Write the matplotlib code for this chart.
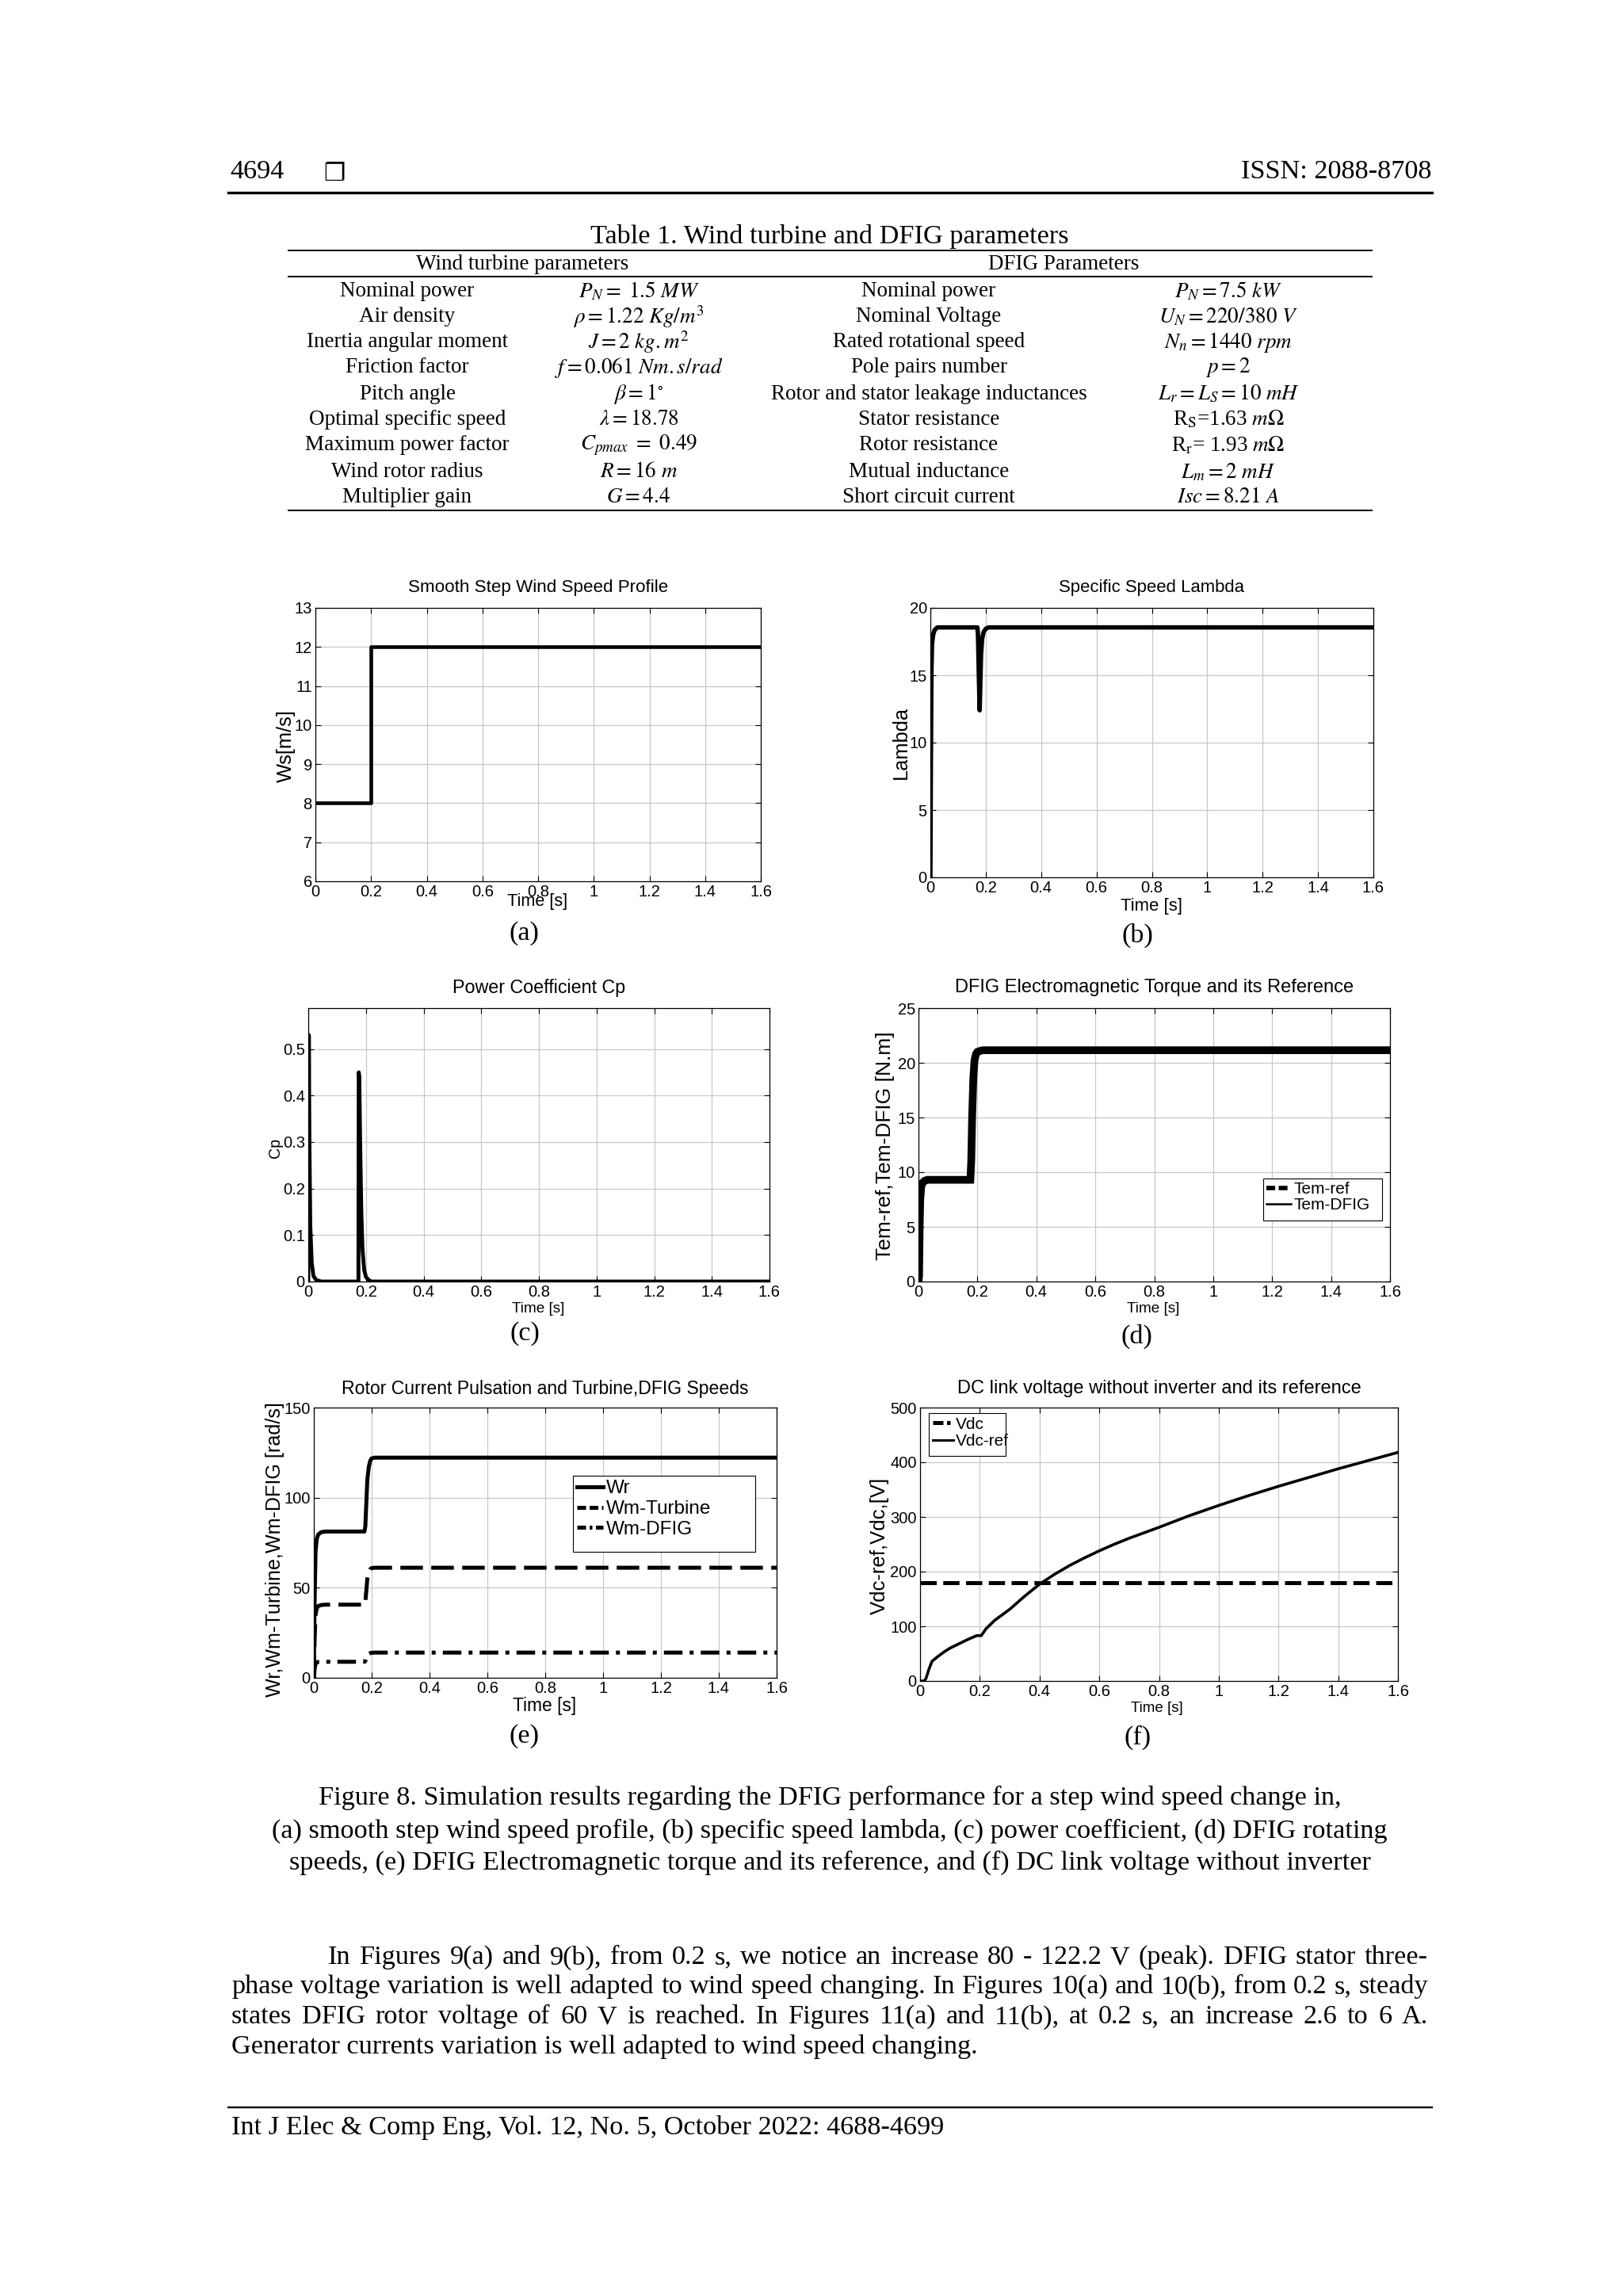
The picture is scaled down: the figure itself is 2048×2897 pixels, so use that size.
import numpy as np
import matplotlib.pyplot as plt
from matplotlib.lines import Line2D
from matplotlib.patches import Rectangle
from matplotlib.ticker import FuncFormatter

plt.rcParams['font.family'] = ['Liberation Sans', 'DejaVu Sans']
plt.rcParams['mathtext.fontset'] = 'stix'

W, H = 2048, 2897
SERIF = 'Liberation Serif'

# ---- Table 1 ----
wt_params = ['Nominal power', 'Air density', 'Inertia angular moment', 'Friction factor',
             'Pitch angle', 'Optimal specific speed', 'Maximum power factor',
             'Wind rotor radius', 'Multiplier gain']
wt_values = [r'$P_N =\ 1.5\ MW$', r'$\rho = 1.22\ Kg/m^3$', r'$J = 2\ kg.m^2$',
             r'$f = 0.061\ Nm.s/rad$', r'$\beta = 1^{\circ}$', r'$\lambda = 18.78$',
             r'$C_{pmax}\ =\ 0.49$', r'$R = 16\ m$', r'$G = 4.4$']
dfig_params = ['Nominal power', 'Nominal Voltage', 'Rated rotational speed', 'Pole pairs number',
               'Rotor and stator leakage inductances', 'Stator resistance', 'Rotor resistance',
               'Mutual inductance', 'Short circuit current']
dfig_values = [r'$P_N = 7.5\ kW$', r'$U_N = 220/380\ V$', r'$N_n = 1440\ rpm$', r'$p = 2$',
               r'$L_r = L_S = 10\ mH$', r'R$_\mathrm{S}$=1.63 $m\Omega$',
               r'R$_\mathrm{r}$= 1.93 $m\Omega$', r'$L_m = 2\ mH$', r'$Isc = 8.21\ A$']

# ---- (a) wind speed ----
t_ws = [0, 0.2, 0.2, 1.6]
ws = [8, 8, 12, 12]

# ---- (b) lambda ----
t_lam = [0, 0.002, 0.004, 0.006, 0.01, 0.015, 0.025, 0.17, 0.172, 0.175, 0.178, 0.18,
         0.183, 0.187, 0.192, 0.2, 0.21, 1.6]
lam = [0, 9, 15.5, 17.3, 18.0, 18.35, 18.55, 18.55, 18.0, 15.0, 12.4, 14.0,
       16.5, 17.7, 18.2, 18.45, 18.55, 18.55]

# ---- (c) Cp ----
t_cp = [0, 0.002, 0.004, 0.007, 0.012, 0.018, 0.028, 0.045, 0.174, 0.175, 0.177, 0.18,
        0.184, 0.188, 0.194, 0.2, 0.21, 0.22, 1.6]
cp = [0, 0.53, 0.3, 0.12, 0.04, 0.012, 0.003, 0, 0, 0.45, 0.44, 0.3,
      0.15, 0.07, 0.025, 0.01, 0.003, 0, 0]

# ---- (d) torque ----
t_tem = [0, 0.002, 0.004, 0.006, 0.009, 0.013, 0.02, 0.03, 0.176, 0.179, 0.182, 0.186,
         0.19, 0.195, 0.2, 0.21, 0.22, 1.6]
tem_ref = [0, 0.5, 5, 7.5, 8.6, 9.0, 9.2, 9.3, 9.3, 11, 15, 18.5,
           20.2, 20.8, 21.0, 21.1, 21.15, 21.15]
tem_dfig = [0, 0.5, 5, 7.5, 8.6, 9.0, 9.2, 9.3, 9.3, 11, 15, 18.5,
            20.2, 20.8, 21.0, 21.1, 21.15, 21.15]

# ---- (e) speeds ----
t_w = [0, 0.003, 0.006, 0.01, 0.015, 0.025, 0.04, 0.175, 0.178, 0.181, 0.185, 0.19,
       0.195, 0.2, 0.21, 1.6]
wr = [0, 45, 70, 77, 79.5, 80.8, 81.2, 81.2, 84, 95, 110, 117, 120.5, 121.8, 122.2, 122.2]
wm_turbine = [0, 22.5, 35, 38.5, 39.8, 40.4, 40.6, 40.6, 42, 47.5, 55, 58.5, 60.3, 60.9,
              61.1, 61.1]
wm_dfig = [0, 5.1, 8.0, 8.6, 8.8, 8.9, 8.9, 8.9, 9.3, 10.8, 12.5, 13.3, 13.7, 13.9, 14.0, 14.0]

# ---- (f) DC link ----
t_vdc = [0, 1.6]
vdc = [180, 180]
t_vref = [0, 0.015, 0.02, 0.03, 0.04, 0.06, 0.08, 0.1, 0.13, 0.16, 0.19, 0.205, 0.22, 0.25,
          0.3, 0.35, 0.4, 0.45, 0.5, 0.55, 0.6, 0.65, 0.7, 0.75, 0.8, 0.9, 1.0, 1.1, 1.2,
          1.3, 1.4, 1.5, 1.6]
vdc_ref = [0, 0, 5, 22, 36, 45, 53, 60, 68, 76, 83, 83, 95, 111,
           131, 155, 177, 195, 211, 225, 238, 250, 261, 271, 281, 302, 321, 339, 356,
           372, 388, 403, 418]

fig = plt.figure(figsize=(W / 100, H / 100), dpi=100)
renderer = fig.canvas.get_renderer()


def fx(x):
    return x / W


def fy(y):
    return 1 - y / H


def page_text(x, y, s, size=24.7, **kw):
    return fig.text(fx(x), fy(y), s, fontsize=size, family=SERIF, va='center', **kw)


def hline(x0, x1, y, lw):
    fig.add_artist(Line2D([fx(x0), fx(x1)], [fy(y), fy(y)], color='black', lw=lw))


def fit(t, size_px, vertical=False):
    bb = t.get_window_extent(renderer)
    cur = bb.height if vertical else bb.width
    t.set_fontsize(t.get_fontsize() * size_px / cur)


def justify(s, x0, x1, y):
    words = s.split()
    texts = [page_text(0, y, w) for w in words]
    widths = [t.get_window_extent(renderer).width for t in texts]
    gap = (x1 - x0 - sum(widths)) / (len(words) - 1)
    x = x0
    for t, w in zip(texts, widths):
        t.set_x(fx(x))
        x += w + gap


fmt = FuncFormatter(lambda v, p: '%g' % round(v, 3))


def panel(box, title, xlab, ylab, tpos, xpos, ypos):
    l, r, t, b = box
    ax = fig.add_axes([l / W, 1 - b / H, (r - l) / W, (b - t) / H])
    ax.grid(True, color='#c8c8c8', lw=0.9)
    ax.set_axisbelow(True)
    ax.tick_params(direction='in', length=5, width=0.8, top=True, right=True,
                   labelsize=14.5, pad=3)
    for sp in ax.spines.values():
        sp.set_linewidth(0.9)
    ax.set_xlim(0, 1.6)
    ax.set_xticks(np.arange(0, 1.61, 0.2))
    ax.xaxis.set_major_formatter(fmt)
    ax.yaxis.set_major_formatter(fmt)
    ttl = ax.set_title(title, y=(b - tpos[0]) / (b - t), va='center', pad=0, fontsize=16)
    fit(ttl, tpos[1])
    ax.set_xlabel(xlab, fontsize=15)
    ax.xaxis.label.set_va('center')
    ax.xaxis.set_label_coords((xpos[0] - l) / (r - l), (b - xpos[1]) / (b - t))
    fit(ax.xaxis.label, xpos[2])
    ax.set_ylabel(ylab, fontsize=17)
    ax.yaxis.label.set_va('center')
    ax.yaxis.set_label_coords((ypos[0] - l) / (r - l), (b - ypos[1]) / (b - t))
    fit(ax.yaxis.label, ypos[2], vertical=True)
    return ax


def legend_box(ax, axbox, box, handles, labels, size, hl, pad, sp):
    al, ar, at, ab = axbox
    l, r, t, b = box
    x0 = (l - al) / (ar - al)
    y0 = (ab - b) / (ab - at)
    w = (r - l) / (ar - al)
    h = (b - t) / (ab - at)
    ax.add_patch(Rectangle((x0, y0), w, h, transform=ax.transAxes, facecolor='white',
                           edgecolor='black', lw=0.8, zorder=4, clip_on=False))
    ax.legend(handles, labels, loc='upper left', bbox_to_anchor=(x0, y0 + h), frameon=False,
              fontsize=size, handlelength=hl, handletextpad=0.15, labelspacing=sp,
              borderaxespad=0, borderpad=pad)


# ---- page header ----
page_text(290, 217, '4694', ha='left')
fig.text(fx(422), fy(219), '\u2752', fontsize=22, family='DejaVu Sans', ha='center', va='center')
page_text(1807, 217, 'ISSN: 2088-8708', ha='right')
hline(288, 1807, 243, 2.4)

# ---- table ----
page_text(1047, 298, 'Table 1. Wind turbine and DFIG parameters', ha='center')
hline(364, 1731, 316, 1.4)
hline(364, 1731, 349, 1.4)
hline(364, 1731, 644, 1.4)
page_text(659, 334, 'Wind turbine parameters', size=19.5, ha='center')
page_text(1342, 334, 'DFIG Parameters', size=19.5, ha='center')
row_y = [368, 400, 432, 464, 497, 529, 562, 596, 628]
for i, y in enumerate(row_y):
    page_text(514, y, wt_params[i], size=19.5, ha='center')
    page_text(806, y, wt_values[i], size=19.5, ha='center')
    page_text(1172, y, dfig_params[i], size=19.5, ha='center')
    page_text(1550, y, dfig_values[i], size=19.5, ha='center')

# ---- (a) ----
box_a = (398, 960, 767, 1112)
ax = panel(box_a, 'Smooth Step Wind Speed Profile', 'Time [s]', 'Ws[m/s]',
           (742, 327), (678, 1138, 76), (361, 941, 92))
ax.plot(t_ws, ws, color='black', lw=3.3)
ax.set_ylim(6, 13)
ax.set_yticks(range(6, 14))

# ---- (b) ----
box_b = (1174, 1733, 767, 1107)
ax = panel(box_b, 'Specific Speed Lambda', 'Time [s]', 'Lambda',
           (742, 235), (1453, 1143, 78), (1137, 937, 92))
ax.plot(t_lam, lam, color='black', lw=4)
ax.set_ylim(0, 20)
ax.set_yticks(range(0, 21, 5))

# ---- (c) ----
box_c = (389, 971, 1272, 1617)
ax = panel(box_c, 'Power Coefficient Cp', 'Time [s]', 'Cp',
           (1246, 218), (679, 1651, 67), (347, 1448, 25))
ax.plot(t_cp, cp, color='black', lw=3.5)
ax.set_ylim(0, 0.588)
ax.set_yticks(np.arange(0, 0.51, 0.1))

# ---- (d) ----
box_d = (1159, 1754, 1272, 1617)
ax = panel(box_d, 'DFIG Electromagnetic Torque and its Reference', 'Time [s]',
           'Tem-ref,Tem-DFIG [N.m]', (1246, 504), (1455, 1652, 67), (1117, 1446, 288))
ax.plot(t_tem, tem_dfig, color='black', lw=7, solid_joinstyle='miter')
ax.plot(t_tem, tem_ref, color='black', lw=4, linestyle=(0, (2, 1)))
ax.set_ylim(0, 25)
ax.set_yticks(range(0, 26, 5))
legend_box(ax, box_d, (1594, 1744, 1487, 1540),
           [Line2D([], [], color='black', lw=4, linestyle=(0, (2, 0.8))),
            Line2D([], [], color='black', lw=1.8)],
           ['Tem-ref', 'Tem-DFIG'], 15, 1.5, 0.2, 0.05)

# ---- (e) ----
box_e = (396, 980, 1776, 2117)
ax = panel(box_e, 'Rotor Current Pulsation and Turbine,DFIG Speeds', 'Time [s]',
           'Wr,Wm-Turbine,Wm-DFIG [rad/s]', (1752, 514), (687, 2153, 80), (347, 1955, 370))
ax.plot(t_w, wr, color='black', lw=3.6)
ax.plot(t_w, wm_turbine, color='black', lw=3.6, linestyle=(0, (5.7, 2.1)))
ax.plot(t_w, wm_dfig, color='black', lw=3.6, linestyle=(0, (4.7, 1.8, 1, 1.8)))
ax.set_ylim(0, 150)
ax.set_yticks([0, 50, 100, 150])
legend_box(ax, box_e, (723, 953, 1862, 1958),
           [Line2D([], [], color='black', lw=3.6),
            Line2D([], [], color='black', lw=3.6, linestyle=(0, (2.2, 0.9))),
            Line2D([], [], color='black', lw=3.6, linestyle=(0, (2.2, 0.9, 0.7, 0.9)))],
           ['Wr', 'Wm-Turbine', 'Wm-DFIG'], 17.5, 1.35, 0.22, 0.15)

# ---- (f) ----
box_f = (1161, 1764, 1776, 2121)
ax = panel(box_f, 'DC link voltage without inverter and its reference', 'Time [s]',
           'Vdc-ref,Vdc,[V]', (1752, 510), (1460, 2155, 66), (1110, 1950, 173))
ax.plot(t_vdc, vdc, color='black', lw=3.6, linestyle=(0, (4.1, 1.65)))
ax.plot(t_vref, vdc_ref, color='black', lw=2.6)
ax.set_ylim(0, 500)
ax.set_yticks(range(0, 501, 100))
legend_box(ax, box_f, (1172, 1269, 1783, 1837),
           [Line2D([], [], color='black', lw=3.6, linestyle=(0, (2.6, 0.9, 0.9, 0.9))),
            Line2D([], [], color='black', lw=2.2)],
           ['Vdc', 'Vdc-ref'], 15, 1.25, 0.22, 0.12)

# ---- sub captions ----
for s, x, y in [('(a)', 661, 1178), ('(b)', 1435, 1180), ('(c)', 662, 1683),
                ('(d)', 1434, 1686), ('(e)', 662, 2191), ('(f)', 1436, 2192)]:
    page_text(x, y, s, ha='center')

# ---- figure caption ----
page_text(1047, 2268, 'Figure 8. Simulation results regarding the DFIG performance for a step '
          'wind speed change in,', ha='center')
page_text(1047, 2310, '(a) smooth step wind speed profile, (b) specific speed lambda, (c) power '
          'coefficient, (d) DFIG rotating', ha='center')
page_text(1047, 2350, 'speeds, (e) DFIG Electromagnetic torque and its reference, and (f) DC '
          'link voltage without inverter', ha='center')

# ---- body text ----
justify('In Figures 9(a) and 9(b), from 0.2 s, we notice an increase 80 - 122.2 V (peak). '
        'DFIG stator three-', 414, 1802, 2470)
justify('phase voltage variation is well adapted to wind speed changing. In Figures 10(a) and '
        '10(b), from 0.2 s, steady', 292, 1802, 2507)
justify('states DFIG rotor voltage of 60 V is reached. In Figures 11(a) and 11(b), at 0.2 s, '
        'an increase 2.6 to 6 A.', 292, 1802, 2545)
page_text(292, 2583, 'Generator currents variation is well adapted to wind speed changing.',
          ha='left')

# ---- footer ----
hline(288, 1807, 2659, 1.7)
page_text(292, 2685, 'Int J Elec & Comp Eng, Vol. 12, No. 5, October 2022: 4688-4699', ha='left')

fig.savefig('out.png', dpi=100)
